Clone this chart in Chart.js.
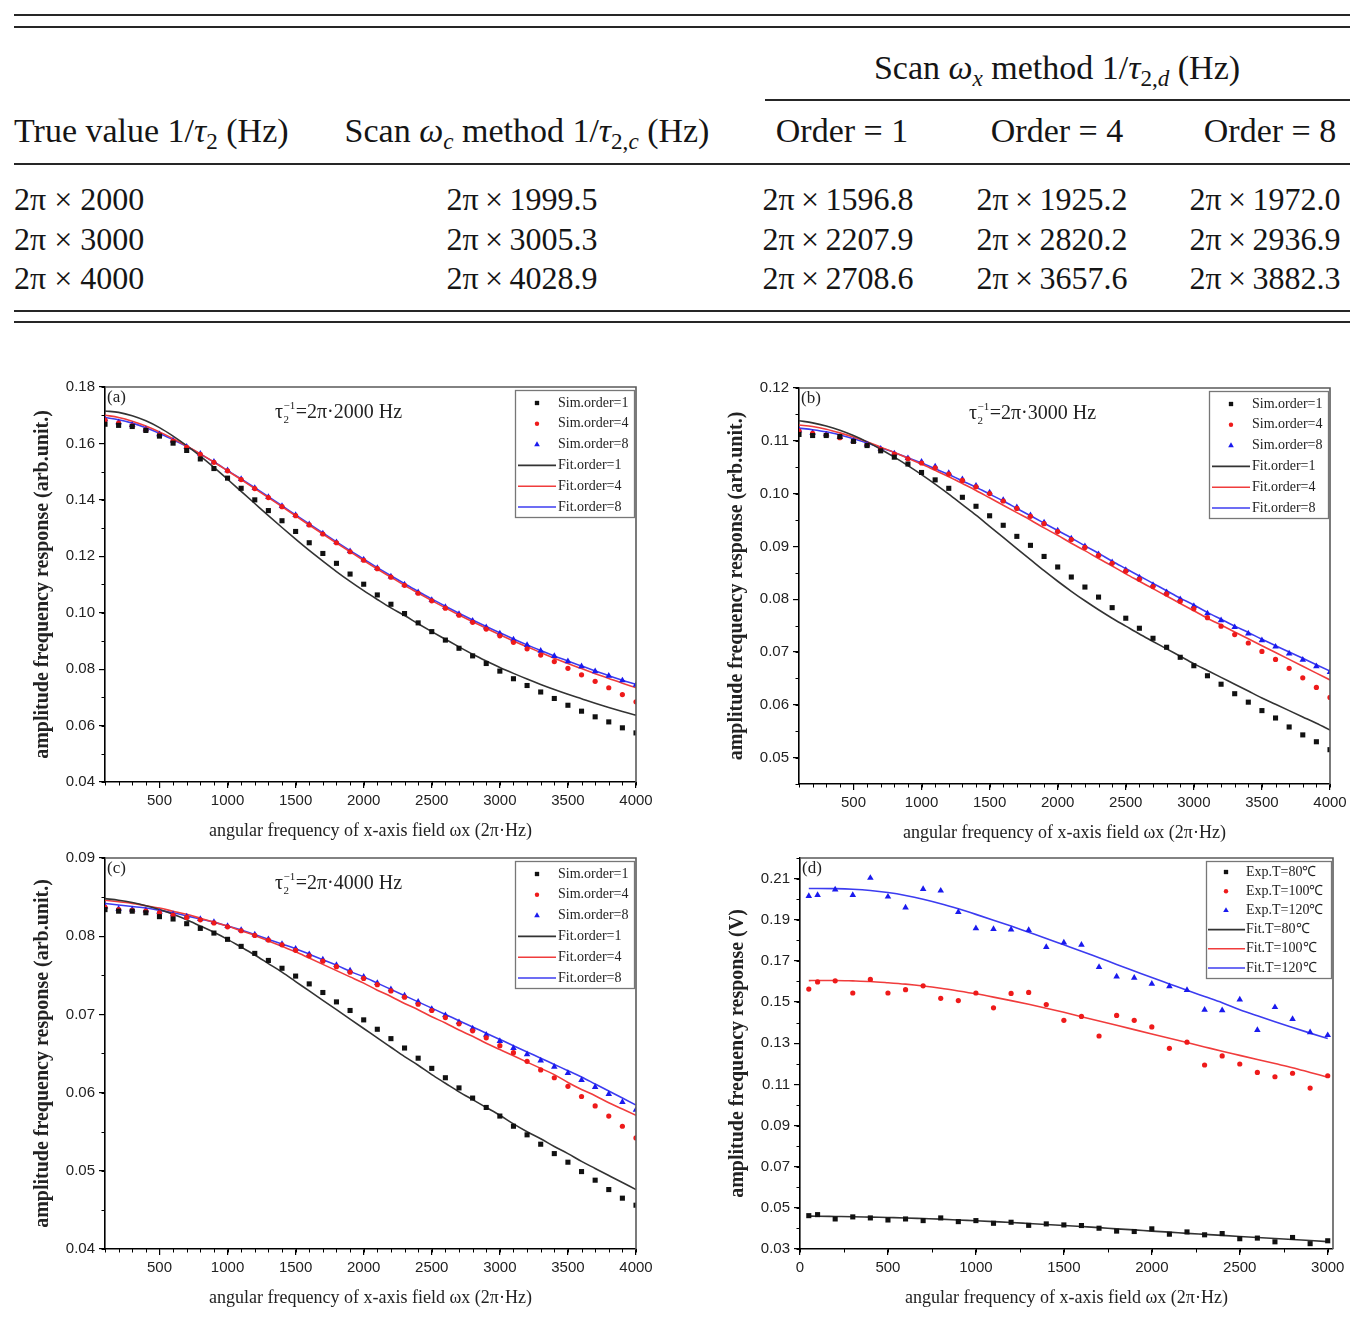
<!DOCTYPE html>
<html><head><meta charset="utf-8">
<script src="https://cdn.jsdelivr.net/npm/chart.js@4.4.1/dist/chart.umd.min.js"></script>
<style>
html,body{margin:0;padding:0;background:#fff;}
#page{position:relative;width:1370px;height:1326px;overflow:hidden;font-family:'Liberation Serif','Times New Roman',serif;color:#151515;}
.rule{position:absolute;background:#262626;height:2px;}
.t{position:absolute;font-size:32px;line-height:40px;white-space:nowrap;}
.h{font-size:34px;}
.c{transform:translateX(-50%);}
sub{font-size:0.68em;vertical-align:-0.32em;line-height:0;}
canvas{position:absolute;}
</style></head><body><div id="page">
<div class="rule" style="left:14px;width:1336px;top:14px"></div>
<div class="rule" style="left:14px;width:1336px;top:26px"></div>
<div class="rule" style="left:765px;width:585px;top:99px"></div>
<div class="rule" style="left:14px;width:1336px;top:163px"></div>
<div class="rule" style="left:14px;width:1336px;top:310px"></div>
<div class="rule" style="left:14px;width:1336px;top:321px"></div>
<div class="t c h" style="left:1057px;top:48px">Scan <i>ω<sub>x</sub></i> method 1/<i>τ</i><sub>2,<i>d</i></sub> (Hz)</div>
<div class="t h" style="left:14px;top:111px">True value 1/<i>τ</i><sub>2</sub> (Hz)</div>
<div class="t c h" style="left:527px;top:111px">Scan <i>ω<sub>c</sub></i> method 1/<i>τ</i><sub>2,<i>c</i></sub> (Hz)</div>
<div id="tbl"></div>
<canvas id="ca" width="650" height="475" style="left:20px;top:370px"></canvas>
<canvas id="cb" width="650" height="477" style="left:714px;top:370px"></canvas>
<canvas id="cc" width="650" height="467" style="left:20px;top:845px"></canvas>
<canvas id="cd" width="650" height="467" style="left:715px;top:845px"></canvas>
</div>
<script>
// ---------- table data ----------
const trueValues = [2000, 3000, 4000];
const scanCValues = [1999.5, 3005.3, 4028.9];
const orders = [1, 4, 8];
const scanXValues = [[1596.8, 1925.2, 1972.0], [2207.9, 2820.2, 2936.9], [2708.6, 3657.6, 3882.3]];

// ---------- chart data ----------
const simX = [100,200,300,400,500,600,700,800,900,1000,1100,1200,1300,1400,1500,1600,1700,1800,1900,2000,2100,2200,2300,2400,2500,2600,2700,2800,2900,3000,3100,3200,3300,3400,3500,3600,3700,3800,3900,4000];
const simXTicks = [500,1000,1500,2000,2500,3000,3500,4000];

const aSim1 = [0.1668,0.1664,0.1660,0.1646,0.1626,0.1601,0.1575,0.1545,0.1511,0.1477,0.1441,0.1400,0.1362,0.1326,0.1288,0.1248,0.1210,0.1175,0.1137,0.1101,0.1063,0.1030,0.0997,0.0964,0.0933,0.0903,0.0874,0.0847,0.0820,0.0793,0.0766,0.0742,0.0719,0.0696,0.0672,0.0651,0.0631,0.0613,0.0592,0.0574];
const aSim4 = [0.1683,0.1672,0.1662,0.1648,0.1630,0.1608,0.1586,0.1561,0.1533,0.1503,0.1472,0.1440,0.1408,0.1376,0.1344,0.1311,0.1279,0.1248,0.1216,0.1186,0.1156,0.1126,0.1097,0.1069,0.1042,0.1016,0.0991,0.0966,0.0942,0.0918,0.0895,0.0872,0.0850,0.0827,0.0803,0.0780,0.0757,0.0734,0.0710,0.0684];
const aSim8 = [0.1685,0.1675,0.1665,0.1650,0.1632,0.1610,0.1588,0.1563,0.1535,0.1505,0.1474,0.1442,0.1410,0.1378,0.1346,0.1313,0.1281,0.1250,0.1218,0.1188,0.1158,0.1128,0.1100,0.1072,0.1045,0.1020,0.0995,0.0971,0.0948,0.0926,0.0905,0.0885,0.0865,0.0846,0.0828,0.0810,0.0792,0.0776,0.0760,0.0744];
const aFit1 = [0.1715,0.1710,0.1698,0.1680,0.1656,0.1626,0.1592,0.1555,0.1515,0.1473,0.1430,0.1387,0.1344,0.1302,0.1261,0.1221,0.1183,0.1146,0.1111,0.1078,0.1047,0.1017,0.0990,0.0961,0.0933,0.0906,0.0879,0.0853,0.0829,0.0806,0.0785,0.0765,0.0746,0.0728,0.0711,0.0695,0.0679,0.0664,0.0650,0.0637];
const aFit4 = [0.1700,0.1692,0.1679,0.1662,0.1641,0.1617,0.1591,0.1563,0.1534,0.1503,0.1472,0.1440,0.1408,0.1376,0.1343,0.1311,0.1279,0.1247,0.1216,0.1185,0.1155,0.1126,0.1097,0.1070,0.1043,0.1017,0.0992,0.0968,0.0945,0.0922,0.0900,0.0879,0.0859,0.0839,0.0820,0.0802,0.0784,0.0767,0.0750,0.0734];
const aFit8 = [0.1692,0.1684,0.1672,0.1656,0.1636,0.1613,0.1589,0.1562,0.1534,0.1504,0.1474,0.1443,0.1411,0.1379,0.1347,0.1315,0.1283,0.1251,0.1220,0.1190,0.1160,0.1131,0.1103,0.1075,0.1049,0.1023,0.0998,0.0974,0.0951,0.0929,0.0907,0.0886,0.0866,0.0847,0.0829,0.0811,0.0794,0.0777,0.0761,0.0746];

const bSim1 = [0.1112,0.1110,0.1110,0.1108,0.1099,0.1091,0.1081,0.1069,0.1056,0.1040,0.1026,0.1010,0.0993,0.0976,0.0958,0.0940,0.0919,0.0902,0.0881,0.0861,0.0842,0.0823,0.0804,0.0784,0.0764,0.0745,0.0726,0.0709,0.0690,0.0674,0.0655,0.0639,0.0621,0.0605,0.0589,0.0575,0.0558,0.0543,0.0530,0.0515];
const bSim4 = [0.1119,0.1114,0.1111,0.1106,0.1099,0.1092,0.1084,0.1075,0.1066,0.1058,0.1049,0.1037,0.1025,0.1013,0.1000,0.0986,0.0972,0.0957,0.0943,0.0928,0.0913,0.0898,0.0883,0.0868,0.0853,0.0838,0.0824,0.0810,0.0796,0.0782,0.0765,0.0749,0.0733,0.0717,0.0701,0.0686,0.0669,0.0651,0.0633,0.0614];
const bSim8 = [0.1120,0.1115,0.1112,0.1107,0.1100,0.1093,0.1085,0.1076,0.1067,0.1060,0.1051,0.1039,0.1027,0.1015,0.1002,0.0988,0.0974,0.0959,0.0945,0.0930,0.0915,0.0900,0.0885,0.0870,0.0855,0.0841,0.0827,0.0813,0.0800,0.0787,0.0773,0.0760,0.0747,0.0735,0.0722,0.0710,0.0697,0.0685,0.0673,0.0662];
const bFit1 = [0.1138,0.1134,0.1128,0.1120,0.1110,0.1098,0.1084,0.1069,0.1053,0.1036,0.1018,0.0999,0.0979,0.0959,0.0938,0.0917,0.0896,0.0875,0.0854,0.0834,0.0815,0.0797,0.0780,0.0764,0.0749,0.0734,0.0720,0.0706,0.0692,0.0678,0.0665,0.0652,0.0639,0.0626,0.0613,0.0601,0.0589,0.0577,0.0565,0.0552];
const bFit4 = [0.1130,0.1127,0.1122,0.1115,0.1107,0.1098,0.1088,0.1078,0.1067,0.1056,0.1044,0.1032,0.1019,0.1006,0.0992,0.0978,0.0964,0.0950,0.0935,0.0921,0.0906,0.0892,0.0877,0.0863,0.0848,0.0834,0.0820,0.0806,0.0792,0.0778,0.0764,0.0751,0.0738,0.0725,0.0712,0.0699,0.0686,0.0673,0.0660,0.0647];
const bFit8 = [0.1124,0.1121,0.1117,0.1111,0.1104,0.1096,0.1087,0.1078,0.1068,0.1058,0.1047,0.1036,0.1024,0.1012,0.0999,0.0986,0.0972,0.0958,0.0944,0.0930,0.0916,0.0901,0.0887,0.0872,0.0858,0.0844,0.0830,0.0816,0.0802,0.0789,0.0775,0.0762,0.0749,0.0737,0.0724,0.0712,0.0700,0.0688,0.0676,0.0664];

const cSim1 = [0.0834,0.0832,0.0832,0.0830,0.0825,0.0822,0.0816,0.0810,0.0804,0.0796,0.0787,0.0778,0.0769,0.0759,0.0749,0.0739,0.0728,0.0716,0.0705,0.0693,0.0681,0.0669,0.0657,0.0644,0.0631,0.0619,0.0606,0.0593,0.0581,0.0570,0.0557,0.0546,0.0534,0.0522,0.0511,0.0499,0.0488,0.0476,0.0465,0.0456];
const cSim4 = [0.0837,0.0834,0.0833,0.0832,0.0830,0.0827,0.0824,0.0821,0.0817,0.0812,0.0807,0.0801,0.0795,0.0789,0.0782,0.0775,0.0768,0.0761,0.0754,0.0746,0.0738,0.0730,0.0722,0.0713,0.0705,0.0696,0.0688,0.0679,0.0670,0.0660,0.0651,0.0640,0.0629,0.0619,0.0608,0.0595,0.0583,0.0570,0.0557,0.0542];
const cSim8 = [0.0838,0.0835,0.0834,0.0833,0.0831,0.0828,0.0825,0.0822,0.0818,0.0813,0.0808,0.0802,0.0796,0.0790,0.0784,0.0777,0.0770,0.0763,0.0756,0.0748,0.0740,0.0732,0.0724,0.0716,0.0707,0.0699,0.0690,0.0682,0.0674,0.0666,0.0657,0.0649,0.0641,0.0633,0.0625,0.0616,0.0607,0.0598,0.0588,0.0578];
const cFit1 = [0.0848,0.0846,0.0843,0.0839,0.0834,0.0828,0.0821,0.0813,0.0805,0.0796,0.0786,0.0776,0.0765,0.0754,0.0742,0.0730,0.0718,0.0706,0.0694,0.0682,0.0670,0.0658,0.0646,0.0635,0.0623,0.0612,0.0601,0.0591,0.0581,0.0571,0.0560,0.0550,0.0541,0.0531,0.0522,0.0512,0.0503,0.0494,0.0485,0.0476];
const cFit4 = [0.0846,0.0844,0.0842,0.0839,0.0836,0.0832,0.0828,0.0823,0.0818,0.0813,0.0807,0.0801,0.0794,0.0787,0.0780,0.0772,0.0764,0.0756,0.0748,0.0740,0.0731,0.0723,0.0714,0.0706,0.0697,0.0689,0.0680,0.0672,0.0663,0.0655,0.0647,0.0639,0.0631,0.0623,0.0613,0.0604,0.0596,0.0587,0.0579,0.0571];
const cFit8 = [0.0842,0.0840,0.0838,0.0836,0.0833,0.0830,0.0826,0.0822,0.0818,0.0813,0.0808,0.0802,0.0796,0.0790,0.0784,0.0777,0.0770,0.0763,0.0755,0.0748,0.0740,0.0732,0.0724,0.0716,0.0708,0.0700,0.0692,0.0684,0.0676,0.0668,0.0660,0.0652,0.0644,0.0636,0.0628,0.0620,0.0611,0.0602,0.0593,0.0584];

const expX = [50,100,200,300,400,500,600,700,800,900,1000,1100,1200,1300,1400,1500,1600,1700,1800,1900,2000,2100,2200,2300,2400,2500,2600,2700,2800,2900,3000];
const expXTicks = [0,500,1000,1500,2000,2500,3000];
const dExp80 = [0.0462,0.0467,0.0446,0.0456,0.0451,0.0441,0.0446,0.0438,0.0451,0.0433,0.0438,0.0425,0.0430,0.0415,0.0422,0.0417,0.0414,0.0401,0.0387,0.0385,0.0398,0.0372,0.0383,0.0369,0.0375,0.0350,0.0353,0.0335,0.0356,0.0326,0.0340];
const dExp100 = [0.1563,0.1598,0.1603,0.1544,0.1610,0.1544,0.1560,0.1579,0.1518,0.1507,0.1544,0.1472,0.1542,0.1547,0.1488,0.1411,0.1430,0.1335,0.1435,0.1411,0.1379,0.1275,0.1305,0.1194,0.1238,0.1199,0.1158,0.1137,0.1154,0.1082,0.1142];
const dExp120 = [0.2015,0.2020,0.2047,0.2020,0.2103,0.2012,0.1959,0.2049,0.2041,0.1937,0.1858,0.1855,0.1852,0.1850,0.1767,0.1789,0.1778,0.1670,0.1624,0.1618,0.1589,0.1576,0.1558,0.1462,0.1460,0.1512,0.1364,0.1475,0.1417,0.1353,0.1339];
const dFit80 = [0.0460,0.0459,0.0458,0.0457,0.0455,0.0453,0.0451,0.0448,0.0445,0.0441,0.0437,0.0433,0.0429,0.0424,0.0419,0.0414,0.0409,0.0404,0.0398,0.0393,0.0387,0.0382,0.0376,0.0371,0.0366,0.0361,0.0356,0.0351,0.0346,0.0341,0.0336];
const dFit100 = [0.1604,0.1605,0.1605,0.1603,0.1600,0.1594,0.1587,0.1578,0.1567,0.1554,0.1540,0.1524,0.1507,0.1489,0.1470,0.1450,0.1429,0.1408,0.1387,0.1366,0.1345,0.1324,0.1303,0.1282,0.1261,0.1241,0.1221,0.1201,0.1181,0.1158,0.1135];
const dFit120 = [0.2052,0.2052,0.2051,0.2048,0.2042,0.2032,0.2018,0.2000,0.1978,0.1953,0.1926,0.1898,0.1869,0.1839,0.1809,0.1778,0.1747,0.1715,0.1683,0.1651,0.1619,0.1588,0.1557,0.1527,0.1497,0.1463,0.1433,0.1404,0.1376,0.1349,0.1323];

const yTicksA = [0.04,0.06,0.08,0.10,0.12,0.14,0.16,0.18];
const yTicksB = [0.05,0.06,0.07,0.08,0.09,0.10,0.11,0.12];
const yTicksC = [0.04,0.05,0.06,0.07,0.08,0.09];
const yTicksD = [0.03,0.05,0.07,0.09,0.11,0.13,0.15,0.17,0.19,0.21];

// ---------- table ----------
(function(){
  const host = document.getElementById('tbl');
  const orderCenters = [842, 1057, 1270];
  orders.forEach((o,i)=>{
    const d = document.createElement('div'); d.className='t c h';
    d.style.left = orderCenters[i]+'px'; d.style.top='111px';
    d.textContent = 'Order = ' + o; host.appendChild(d);
  });
  const rowTops = [179, 219, 258];
  const colCenters = [522, 838, 1052, 1265];
  trueValues.forEach((v,r)=>{
    const a = document.createElement('div'); a.className='t';
    a.style.left='14px'; a.style.top=rowTops[r]+'px';
    a.textContent = '2π × ' + v; host.appendChild(a);
    const vals = [scanCValues[r]].concat(scanXValues[r]);
    vals.forEach((x,c)=>{
      const d = document.createElement('div'); d.className='t c';
      d.style.left = colCenters[c]+'px'; d.style.top = rowTops[r]+'px';
      d.textContent = '2π\u2009×\u2009' + x.toFixed(1); host.appendChild(d);
    });
  });
})();

// ---------- charts ----------
const BLACK='#111', RED='#ee1a1a', BLUE='#1a1aee';
const LBLACK='#333', LRED='#f03c3c', LBLUE='#3c3cf0';

function sim(label, xs, ys, color, style, r){
  return {type:'scatter', label, data: xs.map((x,i)=>({x, y: ys[i]})), backgroundColor: color, borderColor: color,
    borderWidth:0, pointStyle: style, pointRadius: r, pointHoverRadius: r, showLine:false};
}
function fit(label, xs, ys, color){
  return {type:'line', label, data: xs.map((x,i)=>({x, y: ys[i]})), borderColor: color, backgroundColor: color,
    borderWidth:1.6, pointRadius:0, pointHoverRadius:0, fill:false, cubicInterpolationMode:'monotone'};
}

const deco = {
  id:'deco',
  afterDraw(chart){
    const o = chart.options.plugins.deco;
    const ctx = chart.ctx, ca = chart.chartArea;
    const xs = chart.scales.x, ys = chart.scales.y;
    ctx.save();
    ctx.strokeStyle = '#5a5a5a'; ctx.lineWidth = 1.6;
    ctx.beginPath(); ctx.moveTo(ca.left, ca.top); ctx.lineTo(ca.right, ca.top); ctx.lineTo(ca.right, ca.bottom); ctx.stroke();
    ctx.strokeStyle = '#000'; ctx.lineWidth = 1;
    const nx = Math.floor((xs.max - o.minorX0)/o.minorX + 1e-6);
    for (let k=0;k<=nx;k++){
      const px = Math.round(xs.getPixelForValue(o.minorX0 + k*o.minorX)) + 0.5;
      ctx.beginPath(); ctx.moveTo(px, ca.bottom); ctx.lineTo(px, ca.bottom+3.5); ctx.stroke();
    }
    const ny = Math.floor((ys.max - o.minorY0)/o.minorY + 1e-6);
    for (let k=0;k<=ny;k++){
      const py = Math.round(ys.getPixelForValue(o.minorY0 + k*o.minorY)) + 0.5;
      ctx.beginPath(); ctx.moveTo(ca.left, py); ctx.lineTo(ca.left-3.5, py); ctx.stroke();
    }
    ctx.fillStyle = '#222'; ctx.textAlign='left'; ctx.textBaseline='middle';
    ctx.font = '17px "Liberation Serif"';
    ctx.fillText(o.panel, ca.left + 2, ca.top + 11);
    if (o.tau){
      const x = ca.left + 170, y = ca.top + 31;
      ctx.textBaseline = 'alphabetic';
      ctx.font = '20px "Liberation Serif"'; ctx.fillText('τ', x, y);
      const w = ctx.measureText('τ').width;
      ctx.font = '11px "Liberation Serif"';
      ctx.fillText('−1', x + w + 0.5, y - 9);
      ctx.fillText('2', x + w + 0.5, y + 5);
      const w2 = ctx.measureText('−1').width;
      ctx.font = '20px "Liberation Serif"';
      ctx.fillText('=2π·' + o.tau + ' Hz', x + w + w2 + 1, y);
    }
    const L = o.legend;
    const x0 = Math.round(ca.right - 2 - L.w), y0 = Math.round(ca.top + 3);
    ctx.fillStyle = '#fff'; ctx.fillRect(x0, y0, L.w, L.h);
    ctx.strokeStyle = '#777'; ctx.lineWidth = 1.3; ctx.strokeRect(x0 + 0.5, y0 + 0.5, L.w, L.h);
    chart.data.datasets.forEach((ds,i)=>{
      const y = y0 + L.first + i*L.row;
      if (ds.type === 'line'){
        ctx.strokeStyle = ds.borderColor; ctx.lineWidth = 1.6;
        ctx.beginPath(); ctx.moveTo(x0 + L.l0, y); ctx.lineTo(x0 + L.l1, y); ctx.stroke();
      } else {
        ctx.fillStyle = ds.backgroundColor; ctx.strokeStyle = ds.borderColor;
        Chart.helpers.drawPoint(ctx, {pointStyle: ds.pointStyle, radius: ds.pointRadius*0.85, rotation:0, borderWidth:0}, x0 + L.mx, y);
      }
      ctx.fillStyle = '#222'; ctx.font = L.font; ctx.textBaseline = 'middle'; ctx.textAlign = 'left';
      ctx.fillText(ds.label, x0 + L.tx, y);
    });
    ctx.restore();
  }
};

function makeChart(id, cfg){
  const xTitle = 'angular frequency of x-axis field ωx (2π·Hz)';
  new Chart(document.getElementById(id), {
    type:'scatter',
    data:{datasets: cfg.datasets},
    options:{
      responsive:false, animation:false, devicePixelRatio:1,
      layout:{padding:{top:cfg.padTop, right:cfg.padRight, bottom:0, left:0}},
      plugins:{legend:{display:false}, tooltip:{enabled:false}, deco: cfg.deco},
      scales:{
        x:{type:'linear', position:'bottom', min:cfg.xMin, max:cfg.xMax,
          afterBuildTicks: s => { s.ticks = cfg.xTicks.map(v => ({value:v})); },
          afterFit: s => { s.height = 63; },
          ticks:{autoSkip:false, maxRotation:0, padding:4, color:'#222', font:{family:'Liberation Sans', size:15}, callback: v => String(v)},
          grid:{drawOnChartArea:false, drawTicks:true, tickLength:6, color:'#000', lineWidth:1.2},
          border:{display:true, color:'#000', width:1.6},
          title:{display:true, text:xTitle, color:'#222', font:{family:'Liberation Serif', size:18}, padding:{top:0, bottom:3}}
        },
        y:{type:'linear', position:'left', min:cfg.yMin, max:cfg.yMax,
          afterBuildTicks: s => { s.ticks = cfg.yTicks.map(v => ({value:v})); },
          afterFit: s => { s.width = 85; },
          ticks:{autoSkip:false, padding:4, color:'#222', font:{family:'Liberation Sans', size:15}, callback: v => Number(v).toFixed(2)},
          grid:{drawOnChartArea:false, drawTicks:true, tickLength:6, color:'#000', lineWidth:1.2},
          border:{display:true, color:'#000', width:1.6},
          title:{display:true, text:cfg.yTitle, color:'#222', font:{family:'Liberation Serif', size:20, weight:'bold'}, padding:{top:11, bottom:0}}
        }
      }
    },
    plugins:[deco]
  });
}

const legSim = {w:119, h:127, first:13, row:20.8, mx:22, l0:3, l1:41, tx:43, font:'14px "Liberation Serif"'};
const legExp = {w:125, h:117, first:11, row:19.2, mx:20, l0:2, l1:39, tx:40, font:'14px "Liberation Serif"'};

function simSets(s1, s4, s8, f1, f4, f8){
  return [
    sim('Sim.order=1', simX, s1, BLACK, 'rect', 3.6),
    sim('Sim.order=4', simX, s4, RED, 'circle', 2.6),
    sim('Sim.order=8', simX, s8, BLUE, 'triangle', 3.8),
    fit('Fit.order=1', simX, f1, LBLACK),
    fit('Fit.order=4', simX, f4, LRED),
    fit('Fit.order=8', simX, f8, LBLUE)
  ];
}

makeChart('ca', {datasets: simSets(aSim1,aSim4,aSim8,aFit1,aFit4,aFit8), padTop:17, padRight:34,
  xMin:100, xMax:4000, xTicks:simXTicks, yMin:0.04, yMax:0.18, yTicks:yTicksA,
  yTitle:'amplitude frequency response (arb.unit.)',
  deco:{panel:'(a)', tau:'2000', minorX0:100, minorX:100, minorY0:0.04, minorY:0.01, legend:legSim}});

makeChart('cb', {datasets: simSets(bSim1,bSim4,bSim8,bFit1,bFit4,bFit8), padTop:18, padRight:34,
  xMin:100, xMax:4000, xTicks:simXTicks, yMin:0.045, yMax:0.12, yTicks:yTicksB,
  yTitle:'amplitude frequency response (arb.unit.)',
  deco:{panel:'(b)', tau:'3000', minorX0:100, minorX:100, minorY0:0.045, minorY:0.005, legend:legSim}});

makeChart('cc', {datasets: simSets(cSim1,cSim4,cSim8,cFit1,cFit4,cFit8), padTop:10, padRight:34,
  xMin:100, xMax:4000, xTicks:simXTicks, yMin:0.04, yMax:0.09, yTicks:yTicksC,
  yTitle:'amplitude frequency response (arb.unit.)',
  deco:{panel:'(c)', tau:'4000', minorX0:100, minorX:100, minorY0:0.04, minorY:0.005, legend:legSim}});

makeChart('cd', {datasets: [
    sim('Exp.T=80℃', expX, dExp80, BLACK, 'rect', 3.6),
    sim('Exp.T=100℃', expX, dExp100, RED, 'circle', 2.6),
    sim('Exp.T=120℃', expX, dExp120, BLUE, 'triangle', 3.8),
    fit('Fit.T=80℃', expX, dFit80, LBLACK),
    fit('Fit.T=100℃', expX, dFit100, LRED),
    fit('Fit.T=120℃', expX, dFit120, LBLUE)
  ], padTop:10, padRight:32,
  xMin:0, xMax:3030, xTicks:expXTicks, yMin:0.03, yMax:0.22, yTicks:yTicksD,
  yTitle:'amplitude frequency response (V)',
  deco:{panel:'(d)', tau:null, minorX0:0, minorX:250, minorY0:0.03, minorY:0.01, legend:legExp}});
</script>
</body></html>
